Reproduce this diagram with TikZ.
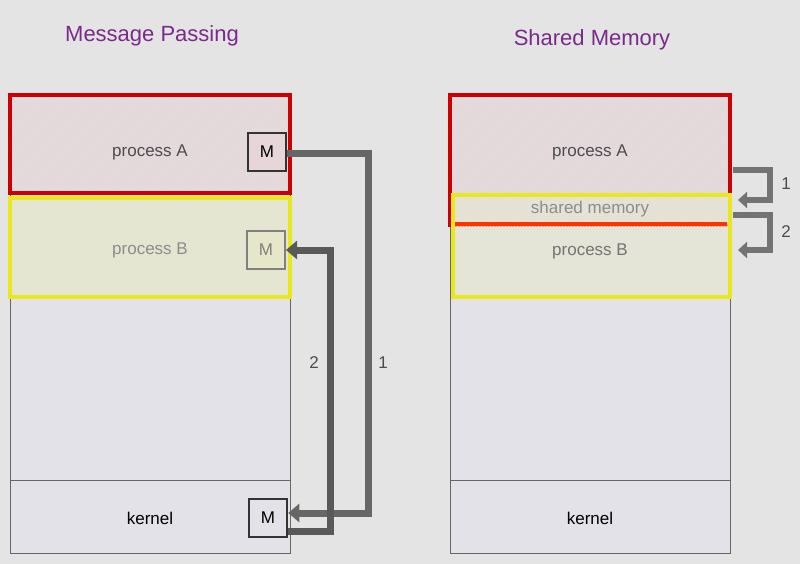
\documentclass[tikz,border=0pt]{standalone}
\usepackage{fontspec}
\setmainfont{Liberation Sans}
\usetikzlibrary{arrows.meta,patterns}
\definecolor{bg}{HTML}{E4E4E4}
\definecolor{memgray}{HTML}{E2E2E8}
\definecolor{pinkfill}{HTML}{E6D6DA}
\definecolor{yellowfill}{HTML}{E6E6C8}
\definecolor{title}{HTML}{7A2A8A}
\definecolor{hiyellow}{HTML}{E8E81A}
\begin{document}
\begin{tikzpicture}
[x=1pt, y=-1pt,
region/.style={draw=black!60, fill=memgray, thin},
procA/.style={fill=pinkfill, postaction={pattern=north east lines, pattern color=black!12}, postaction={draw=red!80!black, line width=3.5pt}},
procB/.style={fill=yellowfill, postaction={pattern=north east lines, pattern color=black!10}, postaction={draw=hiyellow, line width=3.5pt}},
mbox/.style={draw=black!80, line width=2.5pt, minimum size=38pt, inner sep=0pt, font=\fontsize{17}{20}\selectfont},
label/.style={font=\fontsize{17}{20}\selectfont, text=black!70},
heading/.style={font=\fontsize{22}{26}\selectfont, text=title},
pipe/.style={line width=7pt, -{Triangle[length=11pt, width=18pt]}},
pipebox/.style={line width=6pt, -{Triangle[length=9pt, width=16pt]}, draw=black!55}]
\fill[bg] (0,0) rectangle (800,564);
\useasboundingbox (0,0) rectangle (800,564);

% message passing
\node[heading] (t1) at (152,36) {Message Passing};
\draw[region] (10,95) rectangle (290,553);
\draw[region] (10,480) -- (290,480);
\path[procA] (10,95) rectangle (290,193);
\path[procB] (10,198) rectangle (290,297);
\node[label] (pa) at (150,152) {process A};
\node[label, text=black!45] (pb) at (150,250) {process B};
\node[label, text=black] (kl) at (150,518) {kernel};
\node[mbox, fill=pinkfill] (mA) at (267,152) {M};
\node[mbox, draw=black!50, line width=2pt, fill=yellowfill, text=black!50] (mB) at (266,250) {M};
\node[mbox, fill=memgray] (mK) at (268,518) {M};
\coordinate (r1) at (368,0);
\coordinate (r2) at (330,0);
\draw[pipe, draw=black!60] ([yshift=-2pt]mA.east) -- ([yshift=-2pt]mA.east -| r1) -- ([yshift=5pt]mK.east -| r1) -- ([yshift=5pt]mK.east);
\draw[pipe, draw=black!65] ([yshift=-13pt]mK.east) -- ([yshift=-13pt]mK.east -| r2) -- (mB.east -| r2) -- (mB.east);
\node[label] (n2) at (314,363) {2};
\node[label] (n1) at (383,363) {1};

% shared memory
\node[heading] (t2) at (592,40) {Shared Memory};
\draw[region] (450,95) rectangle (730,553);
\draw[region] (450,480) -- (730,480);
\path[procA] (450,95) rectangle (730,225);
\path[procB, fill opacity=0.7] (453,195) rectangle (730,297);
\draw[draw=red!60!orange, line width=4pt] (455,224) -- (727,224);
\node[label] (sa) at (590,152) {process A};
\node[label, text=black!45] (sm) at (590,209) {shared memory};
\node[label, text=black!55] (sb) at (590,251) {process B};
\node[label, text=black] (sk) at (590,518) {kernel};
\coordinate (s1) at (733,170);
\coordinate (e1) at (738,200);
\coordinate (s2) at (733,215);
\coordinate (e2) at (738,250);
\coordinate (q) at (770,0);
\draw[pipebox] (s1) -- (s1 -| q) -- (e1 -| q) -- (e1);
\draw[pipebox] (s2) -- (s2 -| q) -- (e2 -| q) -- (e2);
\node[label] (m1) at (786,184) {1};
\node[label] (m2) at (786,232) {2};
\end{tikzpicture}
\end{document}
